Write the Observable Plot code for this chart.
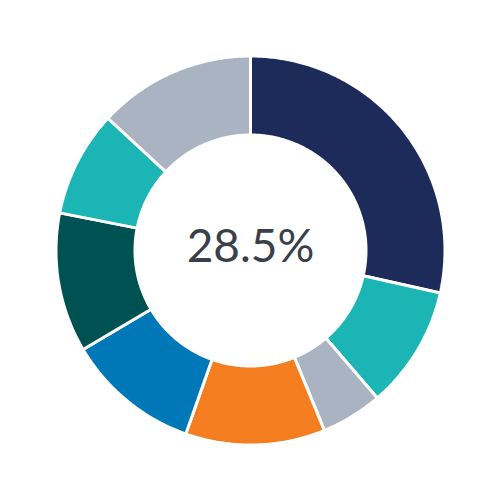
<!DOCTYPE html>
<html>
<head>
<meta charset="utf-8">
<script src="https://cdn.jsdelivr.net/npm/d3@7"></script>
<script src="https://cdn.jsdelivr.net/npm/@observablehq/plot@0.6"></script>
<style>
  html, body { margin: 0; padding: 0; background: #fff; }
  #chart { width: 500px; height: 500px; }
</style>
</head>
<body>
<div id="chart"></div>
<script>
const categories = ["A", "B", "C", "D", "E", "F", "G", "H"];
const values = [28.5, 10.2, 5.1, 11.6, 11.1, 11.6, 8.8, 13.1];
const colors = ["#1c2b5a", "#1bb5b5", "#a9b3c1", "#f47d20", "#0077b6", "#005151", "#1bb5b5", "#a9b3c1"];
const centerLabel = "28.5%";

const outerR = 194.5, innerR = 115.5;
const total = d3.sum(values);
const pts = [];
let acc = 0;
values.forEach((v, i) => {
  const a0 = acc / total * 2 * Math.PI;
  acc += v;
  const a1 = acc / total * 2 * Math.PI;
  const n = Math.max(8, Math.ceil((a1 - a0) / 0.01));
  const ring = [];
  for (let k = 0; k <= n; k++) {
    const a = a0 + (a1 - a0) * k / n;
    ring.push([outerR * Math.sin(a), outerR * Math.cos(a)]);
  }
  for (let k = n; k >= 0; k--) {
    const a = a0 + (a1 - a0) * k / n;
    ring.push([innerR * Math.sin(a), innerR * Math.cos(a)]);
  }
  ring.push(ring[0]);
  ring.forEach(([x, y]) => pts.push({cat: categories[i], idx: i, x, y}));
});

const chart = Plot.plot({
  width: 500,
  height: 500,
  margin: 0,
  x: {domain: [-250, 250], axis: null},
  y: {domain: [-250, 250], axis: null},
  color: {domain: d3.range(values.length), range: colors},
  marks: [
    Plot.line(pts, {x: "x", y: "y", z: "idx", fill: d => d.idx, stroke: "white", strokeWidth: 3, strokeLinejoin: "miter", curve: "linear"}),
    Plot.text([{x: 0, y: 0, t: centerLabel}], {x: "x", y: "y", text: "t", fontSize: 46, fontFamily: "Lato", fill: "#3b3f48", textAnchor: "middle", dy: -3})
  ]
});
document.getElementById("chart").appendChild(chart);
</script>
</body>
</html>
